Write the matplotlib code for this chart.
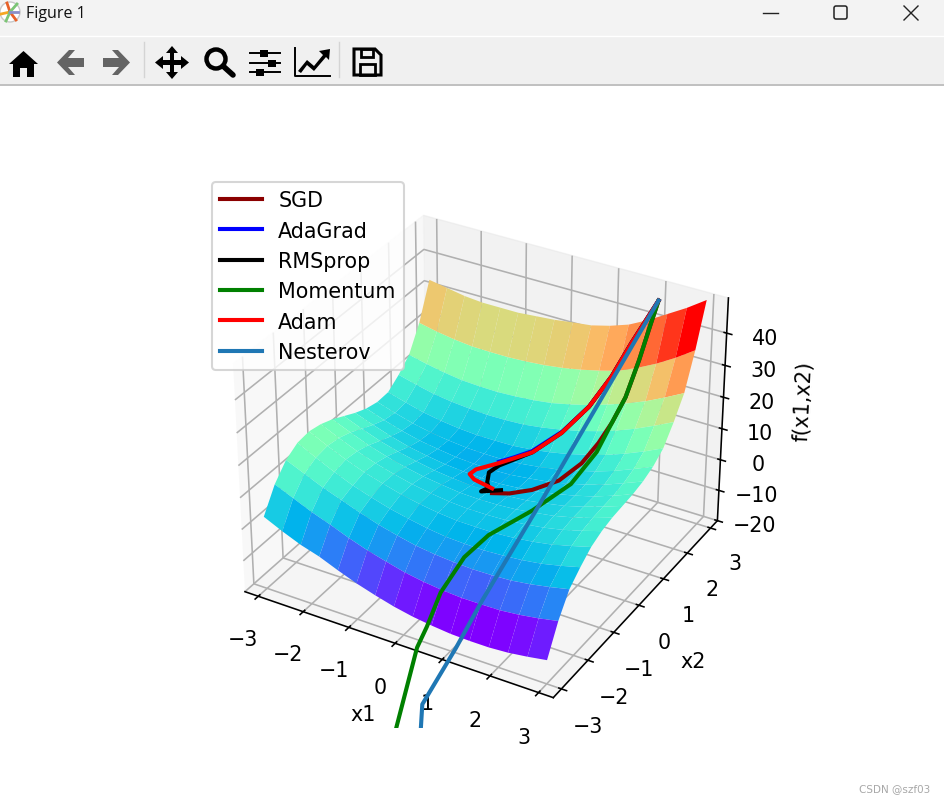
import numpy as np
import matplotlib
matplotlib.use("Agg")
import matplotlib.pyplot as plt
from matplotlib.patches import Rectangle, Polygon, Circle, FancyBboxPatch

W, H = 944, 803
x1_grid = [-3, -2.6, -2.2, -1.8, -1.4, -1, -.6, -.2, .2, .6, 1, 1.4, 1.8, 2.2, 2.6, 3]
x2_grid = [-3, -2.6, -2.2, -1.8, -1.4, -1, -.6, -.2, .2, .6, 1, 1.4, 1.8, 2.2, 2.6, 3]
z_grid = [
 [3,.3,-2.1,-3.9,-6.3,-8.5,-10.3,-11.9,-13.1,-13.9,-14.5,-14.7,-14.7,-14.3,-13.5,-12.5],
 [10,7.5,5,2.9,.6,-1.4,-3,-4.5,-5.5,-6.2,-6.6,-6.6,-6.5,-5.9,-5,-3.8],
 [14.5,12,9.5,7.4,5.3,3.4,1.9,.6,-.2,-.7,-1,-.9,-.6,.2,1.3,2.6],
 [16.8,13.9,11.2,8.8,6.9,5.2,3.9,2.8,2,1.7,1.6,1.9,2.4,3.2,4.5,6],
 [17.3,14.5,12,9.8,8.1,6.5,5.3,4.4,3.8,3.7,3.7,4.1,4.8,5.8,7.3,8.9],
 [16.5,13.9,11.5,9.5,7.9,6.5,5.5,4.7,4.3,4.3,4.5,5.1,5.9,7.1,8.7,10.5],
 [15,12.6,10.3,8.5,7,5.8,5,4.3,4.1,4.2,4.6,5.4,6.3,7.7,9.4,11.4],
 [13,10.7,8.6,7,5.7,4.6,3.9,3.4,3.4,3.7,4.2,5.1,6.2,7.8,9.7,11.8],
 [11,8.9,7,5.4,4.3,3.4,2.9,2.6,2.6,3.1,3.8,4.9,6.2,7.8,9.9,12.2],
 [9.4,7.4,5.7,4.3,3.4,2.6,2.2,2.1,2.3,3,3.8,5,6.5,8.3,10.6,13],
 [8.5,6.7,5.1,3.9,3.1,2.5,2.3,2.3,2.7,3.5,4.5,5.9,7.5,9.5,11.9,14.5],
 [8.7,7.1,5.6,4.6,3.9,3.5,3.5,3.6,4.2,5.1,6.3,7.9,9.6,11.8,14.3,17.1],
 [11.4,9.9,8.6,7.8,7.3,7,7.1,7.4,8.2,9.3,10.6,12.3,14.2,16.6,19.3,22.2],
 [15,13.7,12.6,11.8,11.5,11.4,11.7,12.2,13,14.3,15.8,17.7,19.8,22.2,25.1,28.2],
 [22.5,21.3,20.4,19.8,19.7,19.7,20,20.5,21.3,22.4,23.8,25.4,28,31,34.5,38.5],
 [33.5,32.5,31.5,31,31,31,31.5,32,32.8,33.5,35,37,40,43.5,47,51],
]
series_names = ['SGD', 'AdaGrad', 'RMSprop', 'Momentum', 'Adam', 'Nesterov']
series_colors = ['darkred', 'blue', 'black', 'green', 'red', 'C0']
sgd = [(1.90,3.22,44.9),(1.84,3.04,38.6),(1.78,2.72,29.4),(1.72,2.32,20.5),(1.62,1.98,14.6),(1.52,1.64,10.3),
       (1.40,1.20,6.7),(1.20,.68,4.4),(.88,.22,3.6),(.56,-.08,3.4),(.28,-.24,3.5)]
adagrad = [(1.90,3.22,44.9),(1.52,2.90,32.5),(1.28,2.58,23.3),(1.00,2.22,15.2),(.64,1.82,8.6),(.24,1.36,4.1),
           (-.02,1.12,2.8),(-.22,.90,2.2)]
rmsprop = [(1.90,3.22,44.9),(1.52,2.90,32.5),(1.28,2.58,23.3),(1.00,2.22,15.2),(.64,1.80,8.4),(.26,1.34,4.0),
           (-.16,.80,2.1),(-.20,.48,2.2),(-.02,.10,2.8),(.12,-.08,3.2),(.08,-.30,3.6),(.36,-.04,3.2)]
momentum = [(1.90,3.22,44.9),(1.84,3.04,38.6),(1.78,2.72,29.4),(1.72,2.32,20.5),(1.62,1.98,14.6),(1.58,1.46,9.1),
            (1.50,.60,5.3),(1.30,-.52,5.0),(.92,-1.48,3.3),(.72,-2.02,-.1),(.56,-2.60,-7.1),(.50,-3.00,-14.8),
            (.42,-3.22,-19.9),(.34,-3.86,-40.5),(.34,-3.98,-45.4)]
adam = [(1.90,3.22,44.9),(1.52,2.90,32.5),(1.28,2.58,23.3),(1.00,2.22,15.2),(.64,1.80,8.4),(.26,1.34,4.0),
        (-.20,.86,2.2),(-.46,.44,2.3),(-.46,.20,2.7),(-.28,.06,2.9),(.18,-.06,3.1)]
nesterov = [(1.90,3.22,44.9),(1.32,-.30,5.0),(1.38,-2.52,-6.4),(1.16,-3.08,-17.5),(.76,-3.62,-32.8),(.82,-3.78,-38.7),(.88,-3.90,-43.6)]
series_paths = [sgd, adagrad, rmsprop, momentum, adam, nesterov]

plt.rcParams.update({'grid.linewidth': 1.15, 'axes.linewidth': 1.15,
                     'xtick.major.width': 1.15, 'ytick.major.width': 1.15})
fig = plt.figure(figsize=(W/100, H/100), dpi=100)
ax = fig.add_axes([203/W, (H-729)/H, 550/W, 550/H], projection='3d', computed_zorder=False)
X, Y = np.meshgrid(x1_grid, x2_grid)
ax.plot_surface(X, Y, np.array(z_grid), cmap='rainbow', rstride=1, cstride=1, zorder=1)
ax.view_init(elev=32, azim=-60)
ax.set_xlim(-3.3, 3.3); ax.set_ylim(-3.3, 3.3); ax.set_zlim(-18.85, 50.75)
fs = 14.9
ax.set_xlabel('x1', fontsize=fs, labelpad=15); ax.set_ylabel('x2', fontsize=fs, labelpad=15)
ax.set_zlabel('f(x1,x2)', fontsize=fs, labelpad=15)
ax.tick_params(labelsize=fs, pad=9)
ax.set_xticks([-3,-2,-1,0,1,2,3]); ax.set_yticks([-3,-2,-1,0,1,2,3]); ax.set_zticks([-20,-10,0,10,20,30,40])
for n, c, p in zip(series_names, series_colors, series_paths):
    a = np.array(p)
    ax.plot(a[:, 0], a[:, 1], a[:, 2], color=c, lw=2.95, label=n, zorder=3)
leg = ax.legend(loc='upper left', fontsize=fs, bbox_to_anchor=(212/W, 1-183/H),
                bbox_transform=fig.transFigure, borderaxespad=0)
leg.get_frame().set_linewidth(1.5)

# window chrome of the screenshot
ch = fig.add_axes([0, 0, 1, 1], zorder=5)
ch.set_xlim(0, W); ch.set_ylim(H, 0); ch.axis('off'); ch.patch.set_alpha(0)
ch.add_patch(Rectangle((0, 0), W, 37, color='#f3f3f3', lw=0))
ch.add_patch(Rectangle((0, 37), W, 48, color='#f0f0f0', lw=0))
ch.plot([0, W], [85.5, 85.5], color='#b5b5b5', lw=1.2)
ch.plot([0, W], [36.5, 36.5], color='#ffffff', lw=1)
ch.add_patch(Circle((10, 13), 10, fc='white', ec='#c8c8c8', lw=1))
for dx, dy, c in [(-9, 2, '#f5a623'), (-3, -9, '#e8622a'), (6, 8, '#e8622a'), (7, -8, '#7cc576'), (-4, 9, '#7cc576'), (8, 0, '#8a8fc8')]:
    ch.plot([10, 10+dx], [13, 13+dy], color=c, lw=2)
ch.text(26, 14, 'Figure 1', fontsize=11.5, family='Open Sans', va='center', color='#111111')
ch.plot([763, 778], [13.5, 13.5], color='#222222', lw=1)
ch.add_patch(FancyBboxPatch((834, 7), 13, 13, boxstyle='round,pad=0,rounding_size=2', fc='none', ec='#222222', lw=1.1))
ch.plot([904, 918], [7, 21], color='#222222', lw=1); ch.plot([904, 918], [21, 7], color='#222222', lw=1)
for sx in (143.5, 338.5):
    ch.plot([sx, sx], [43, 78], color='#d4d4d4', lw=1)
k = '#000000'; g = '#646464'
ch.add_patch(Polygon([(9,65),(23.5,52),(38,65),(34,65),(34,78),(27,78),(27,69),(20,69),(20,78),(13,78),(13,65)], fc=k, lw=0))
ch.add_patch(Polygon([(57,63.5),(69,51),(75,51),(68,59),(84,59),(84,68),(68,68),(75,76),(69,76)], fc=g, lw=0))
ch.add_patch(Polygon([(130,63.5),(118,51),(112,51),(119,59),(103,59),(103,68),(119,68),(112,76),(118,76)], fc=g, lw=0))
ch.add_patch(Polygon([(172,47),(178,54),(174,54),(174,61),(181,61),(181,57),(189,63.5),(181,70),(181,66),(174,66),(174,73),(178,73),(172,80),(166,73),(170,73),(170,66),(163,66),(163,70),(155,63.5),(163,57),(163,61),(170,61),(170,54),(166,54)], fc=k, lw=0))
ch.add_patch(Circle((216, 60), 9.5, fc='none', ec=k, lw=3.2))
ch.plot([223, 233], [67, 76], color=k, lw=4, solid_capstyle='round')
for yy, xx in ((54, 264), (64, 272), (73, 260)):
    ch.plot([250, 280], [yy, yy], color=k, lw=1.4)
    ch.add_patch(Rectangle((xx-4, yy-3.5), 8, 7, color=k, lw=0))
ch.plot([295, 295, 330], [49, 76.5, 76.5], color=k, lw=1.4)
ch.add_patch(Polygon([(298,72),(307,61),(314,67),(323,56),(319,52),(330,50),(329,61),(326,58),(314,72),(307,66),(301,74)], fc=k, lw=0))
ch.add_patch(Polygon([(354,50),(375,50),(381,56),(381,76),(354,76)], fc='none', ec=k, lw=2.2))
ch.add_patch(Rectangle((361, 50), 12, 8, fc='none', ec=k, lw=2))
ch.add_patch(Rectangle((360, 65), 15, 11, fc='none', ec=k, lw=2))
ch.text(930, 789, 'CSDN @szf03', fontsize=7.5, color='#a8a8a8', ha='right', va='center')
fig.savefig('out.png', dpi=100)
